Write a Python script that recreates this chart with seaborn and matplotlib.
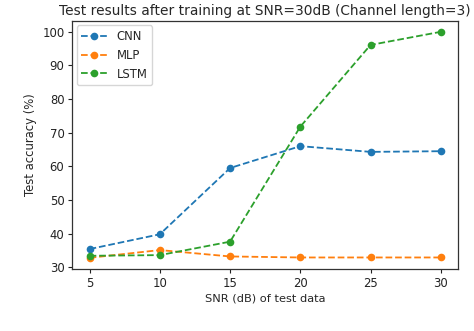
import matplotlib
matplotlib.use("Agg")
import matplotlib.pyplot as plt
import seaborn as sns
import pandas as pd

snr = [5, 10, 15, 20, 25, 30]
cnn = [35.4, 39.8, 59.5, 66.0, 64.3, 64.5]
mlp = [32.8, 35.1, 33.2, 32.9, 32.9, 32.9]
lstm = [33.4, 33.6, 37.6, 71.8, 96.1, 100.0]
models = ["CNN", "MLP", "LSTM"]

sns.set_style("ticks")
plt.rcParams['font.family'] = ['DejaVu Sans']

fig = plt.figure(figsize=(4.74, 3.31), dpi=100)
ax = fig.add_axes([0.152, 0.187, 0.815, 0.751])

palette = sns.color_palette("tab10")
for i, (name, vals) in enumerate(zip(models, [cnn, mlp, lstm])):
    sns.lineplot(x=snr, y=vals, ax=ax, marker='o', linestyle='--',
                 color=palette[i], label=name, linewidth=1.3,
                 markersize=5.5, markeredgewidth=0)

ax.set_title("Test results after training at SNR=30dB (Channel length=3)", fontsize=9.9, pad=4)
ax.set_xlabel("SNR (dB) of test data", fontsize=8.2, labelpad=3)
ax.set_ylabel("Test accuracy (%)", fontsize=8.4, labelpad=4)
ax.set_xticks(snr)
ax.set_yticks([30, 40, 50, 60, 70, 80, 90, 100])
ax.tick_params(labelsize=8.4, length=3, width=0.8, colors='#222222', pad=2.5)
for s in ax.spines.values():
    s.set_color('#333333')
    s.set_linewidth(0.9)
leg = ax.legend(loc='upper left', fontsize=8.4, frameon=True, handlelength=2.2,
                borderaxespad=0.4)
leg.get_frame().set_edgecolor('#cccccc')

fig.savefig("out.png", dpi=100)
